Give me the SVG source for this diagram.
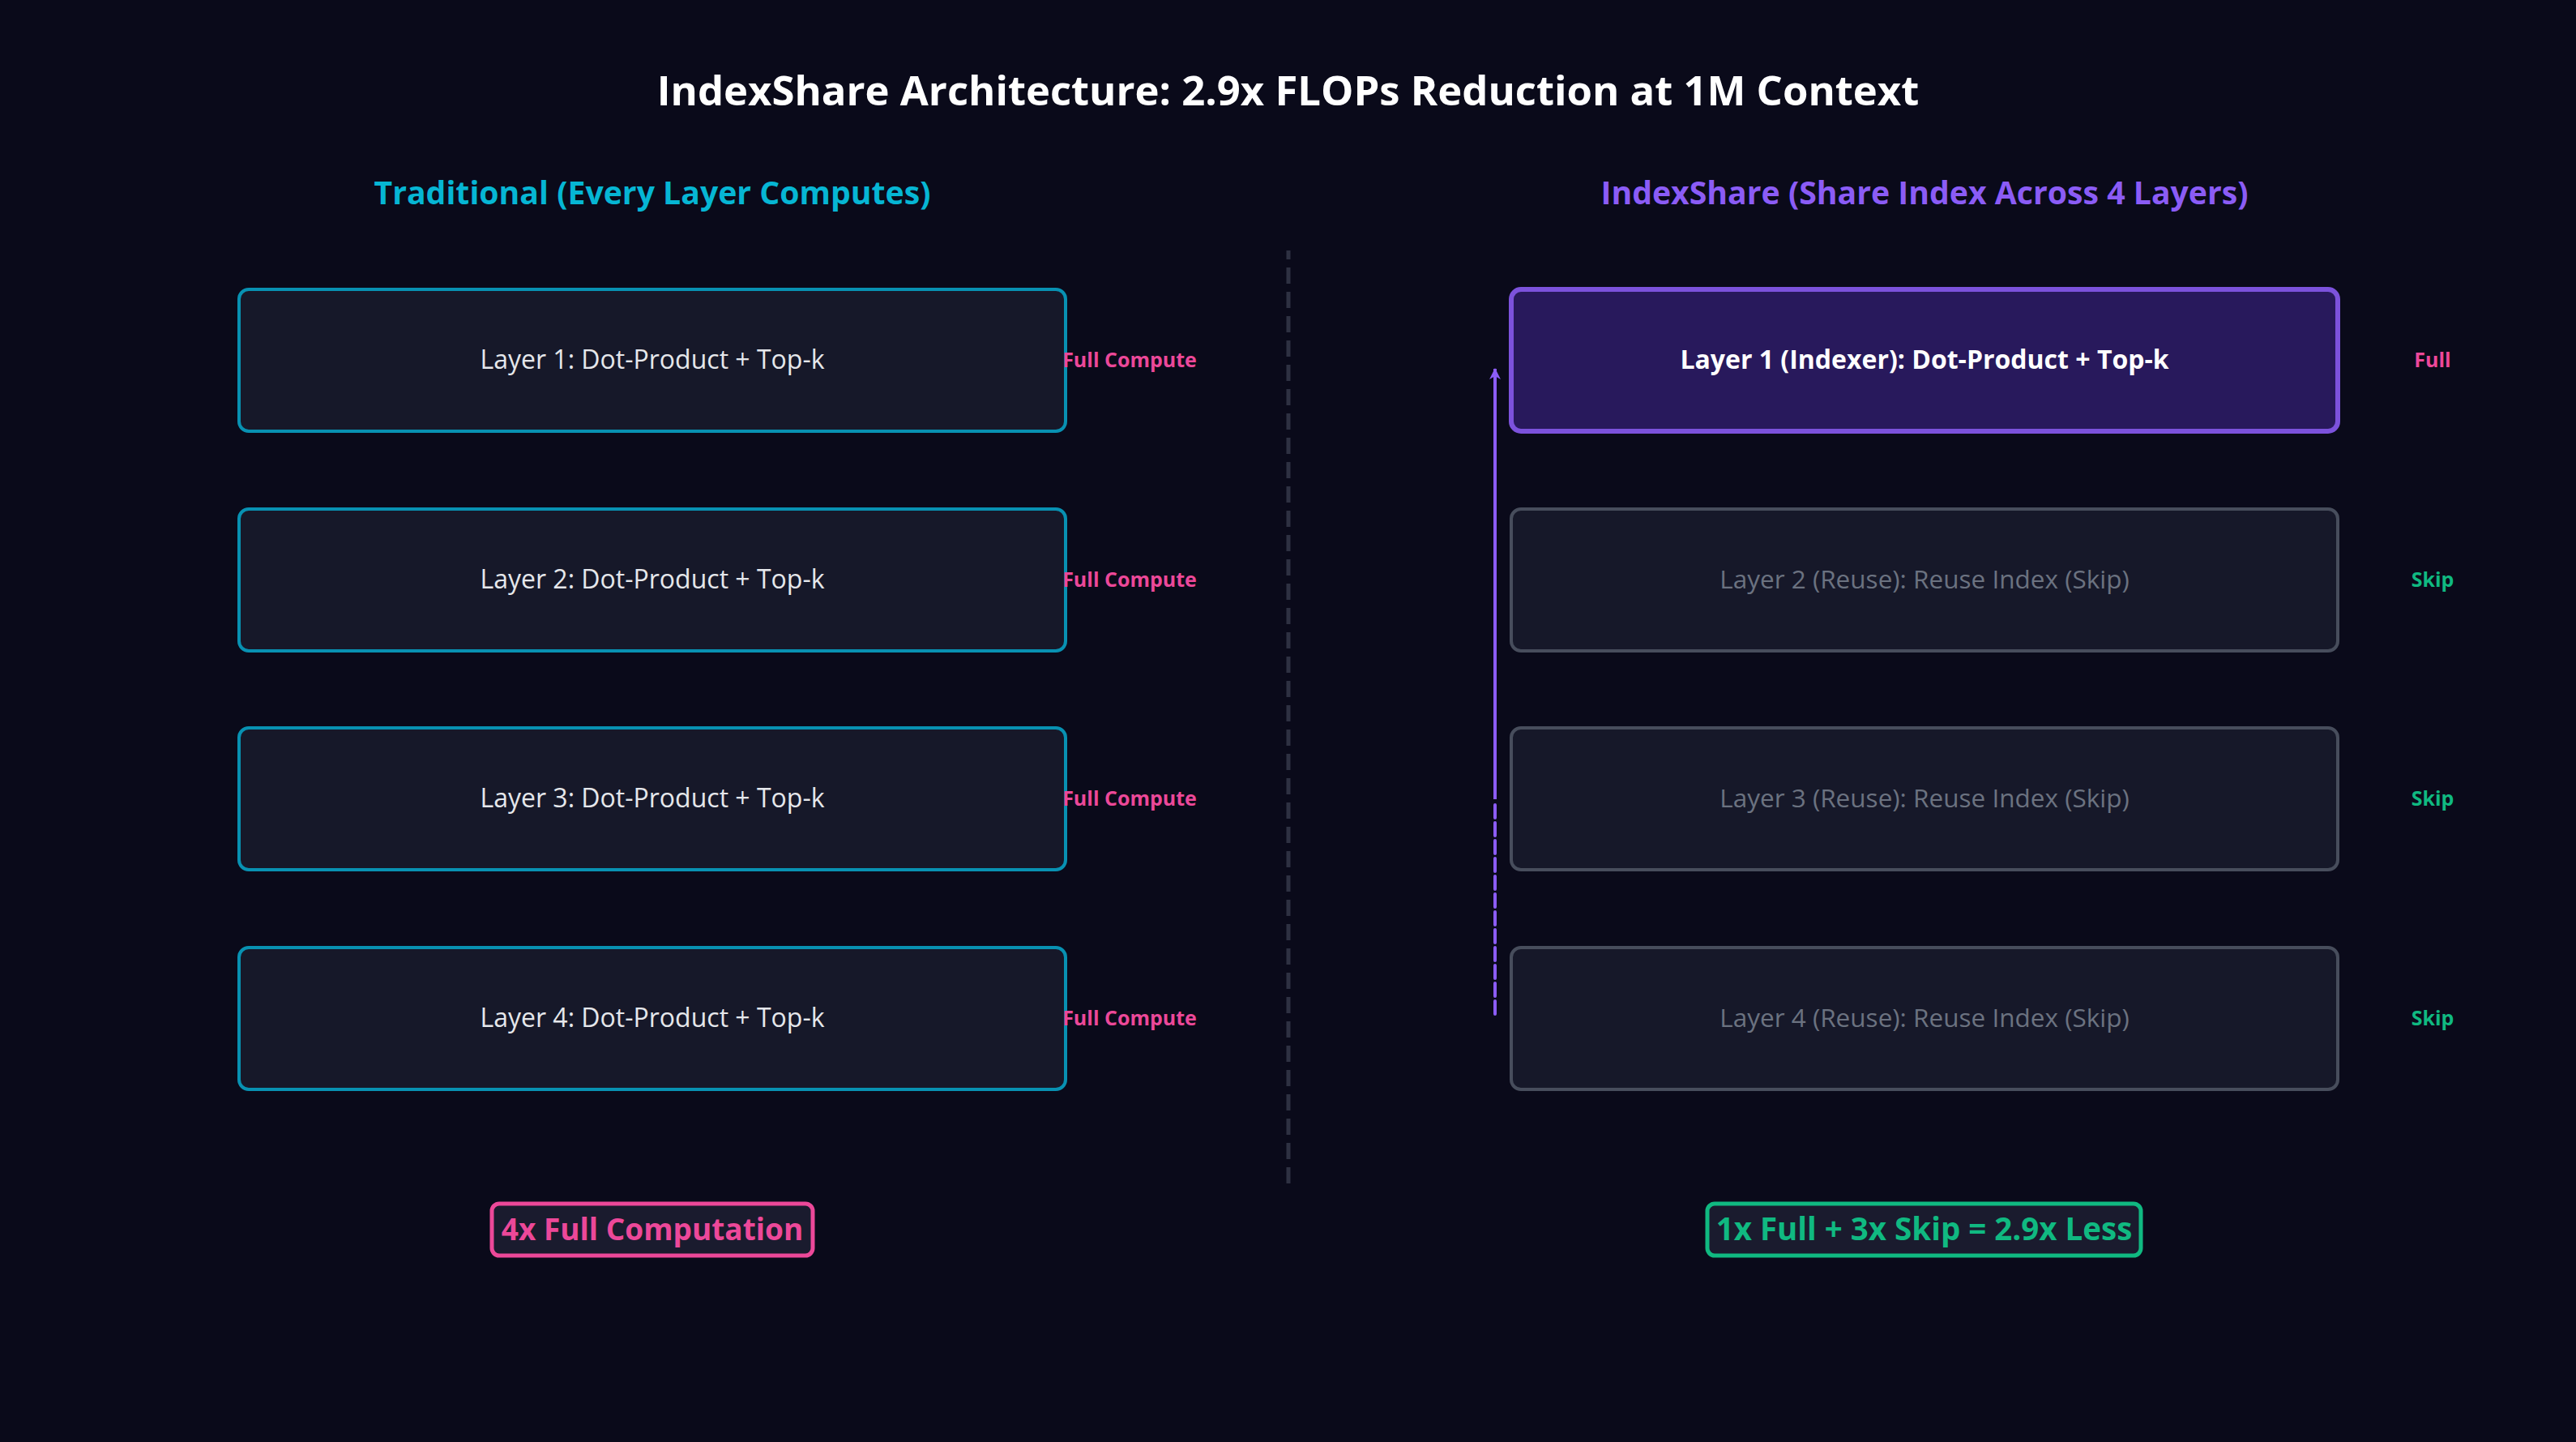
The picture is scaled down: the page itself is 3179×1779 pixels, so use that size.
<svg xmlns="http://www.w3.org/2000/svg" width="3179" height="1779" viewBox="0 0 3179 1779">
<style>
text{font-family:"Open Sans","Noto Sans","DejaVu Sans",sans-serif;text-anchor:middle;dominant-baseline:central}
.title{font-size:50.8px;font-weight:700;fill:#ffffff}
.sub{font-size:39.2px;font-weight:700}
.box{fill:#161829;stroke-width:4}
.trad{stroke:#0891b2}
.reuse{stroke:#474d5c}
.idx{fill:#28195c;stroke:#7c52dc;stroke-width:6}
.t{font-size:32px;fill:#e5e7eb}
.tg{font-size:31.5px;fill:#6b7280}
.tb{font-size:32px;font-weight:700;fill:#ffffff}
.lab{font-size:25px;font-weight:700}
.pink{fill:#ec4899}
.green{fill:#10b981}
.badge{fill:#1a1b2e;stroke-width:5}
.bt{font-size:37px;font-weight:700}
</style>
<defs>
<marker id="ah" viewBox="0 0 14 16" refX="13" refY="8" markerWidth="14" markerHeight="16" markerUnits="userSpaceOnUse" orient="auto">
<path d="M14,8 L0,15 L4,8 L0,1 Z" fill="#8b5cf6"/>
</marker>
</defs>
<rect width="3179" height="1779" fill="#0a0a1a"/>
<text class="title" x="1589.5" y="110">IndexShare Architecture: 2.9x FLOPs Reduction at 1M Context</text>
<text class="sub" x="805" y="236" fill="#06b6d4">Traditional (Every Layer Computes)</text>
<text class="sub" x="2375" y="236" fill="#8b5cf6">IndexShare (Share Index Across 4 Layers)</text>
<line x1="1590" y1="309" x2="1590" y2="1468" stroke="#2e3142" stroke-width="5" stroke-dasharray="20 10" stroke-dashoffset="9"/>
<g id="connectors">
<line x1="1845" y1="1251" x2="1845" y2="988" stroke="#8b5cf6" stroke-width="4" stroke-dasharray="16 6" stroke-linecap="round"/>
<line x1="1845" y1="986" x2="1845" y2="455" stroke="#8b5cf6" stroke-width="4" marker-end="url(#ah)"/>
</g>
<g id="trad1"><rect class="box trad" x="295" y="357" width="1020" height="175" rx="12"/><text class="t" x="805" y="442.5">Layer 1: Dot-Product + Top-k</text><text class="lab pink" x="1394" y="442.5">Full Compute</text></g>
<g id="trad2"><rect class="box trad" x="295" y="628" width="1020" height="175" rx="12"/><text class="t" x="805" y="713.5">Layer 2: Dot-Product + Top-k</text><text class="lab pink" x="1394" y="713.5">Full Compute</text></g>
<g id="trad3"><rect class="box trad" x="295" y="898" width="1020" height="175" rx="12"/><text class="t" x="805" y="983.5">Layer 3: Dot-Product + Top-k</text><text class="lab pink" x="1394" y="983.5">Full Compute</text></g>
<g id="trad4"><rect class="box trad" x="295" y="1169" width="1020" height="175" rx="12"/><text class="t" x="805" y="1254.5">Layer 4: Dot-Product + Top-k</text><text class="lab pink" x="1394" y="1254.5">Full Compute</text></g>
<g id="share1"><rect class="idx" x="1865" y="357" width="1020" height="175" rx="12"/><text class="tb" x="2375" y="442.5">Layer 1 (Indexer): Dot-Product + Top-k</text><text class="lab pink" x="3002" y="442.5">Full</text></g>
<g id="share2"><rect class="box reuse" x="1865" y="628" width="1020" height="175" rx="12"/><text class="tg" x="2375" y="713.5">Layer 2 (Reuse): Reuse Index (Skip)</text><text class="lab green" x="3002" y="713.5">Skip</text></g>
<g id="share3"><rect class="box reuse" x="1865" y="898" width="1020" height="175" rx="12"/><text class="tg" x="2375" y="983.5">Layer 3 (Reuse): Reuse Index (Skip)</text><text class="lab green" x="3002" y="983.5">Skip</text></g>
<g id="share4"><rect class="box reuse" x="1865" y="1169" width="1020" height="175" rx="12"/><text class="tg" x="2375" y="1254.5">Layer 4 (Reuse): Reuse Index (Skip)</text><text class="lab green" x="3002" y="1254.5">Skip</text></g>
<g id="badgeL"><rect class="badge" x="607" y="1485" width="396" height="64" rx="9" stroke="#ec4899"/><text class="bt pink" x="805" y="1515">4x Full Computation</text></g>
<g id="badgeR"><rect class="badge" x="2107" y="1485" width="535" height="64" rx="9" stroke="#10b981"/><text class="bt green" x="2374.5" y="1515" style="font-size:38.5px">1x Full + 3x Skip = 2.9x Less</text></g>
</svg>
